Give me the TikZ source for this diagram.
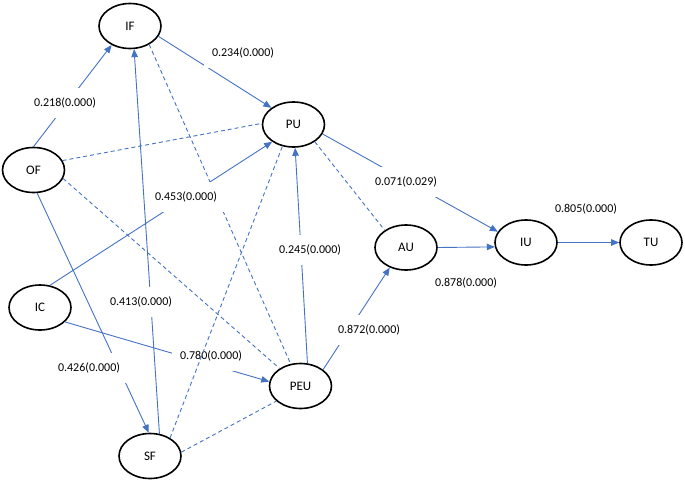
\documentclass[tikz,border=0pt]{standalone}
\usepackage{fontspec}
\setmainfont{Carlito}
\usetikzlibrary{positioning,arrows.meta,shapes.geometric}
\definecolor{link}{HTML}{4472C4}

\begin{document}
\begin{tikzpicture}[x=1pt, y=-1pt,
  var/.style={draw=black, ellipse, line width=1.6pt, minimum width=62pt, minimum height=45pt, inner sep=0pt, font=\fontsize{13}{15}\selectfont},
  eff/.style={draw=link, line width=0.9pt, -{Triangle[length=8pt,width=6.5pt]}},
  cov/.style={draw=link, line width=0.9pt, dash pattern=on 4pt off 3pt},
  coef/.style={fill=white, inner xsep=8pt, inner ysep=0pt, minimum height=30pt, font=\fontsize{12}{14}\selectfont}]
\useasboundingbox (0,0) rectangle (685,482);
% constructs
\node[var] (IF) at (130,26) {IF};
\node[var] (PU) at (293.5,124.5) {PU};
\node[var] (OF) at (33.5,170) {OF};
\node[var] (IC) at (40,307.5) {IC};
\node[var] (SF) at (150,456) {SF};
\node[var] (PEU) at (300.5,386) {PEU};
\node[var] (AU) at (406,247.5) {AU};
\node[var] (IU) at (526,242.5) {IU};
\node[var] (TU) at (651,242.5) {TU};
% paths
\draw[eff] (OF.north) -- (IF.226);
\draw[eff] (IF.340) -- (PU.143);
\draw[eff] (IC.66) -- (PU.219);
\draw[eff] (SF.67) -- (IF.280);
\draw[eff] (OF.279) -- (SF.93);
\draw[eff] (IC.330) -- (PEU.172);
\draw[eff] (PEU.73) -- (PU.274);
\draw[eff] (PEU.36) -- (AU.231);
\draw[eff] (PU.342) -- (IU.159);
\draw[eff] (AU.east) -- (IU.188);
\draw[eff] (IU.east) -- (TU.west);
\draw[cov] (IF.316) -- (PEU.114);
% coefficients
\node[coef] (c1) at (65,103) {0.218(0.000)};
\node[coef] (c2) at (243,53) {0.234(0.000)};
\node[coef] (c3) at (186,197) {0.453(0.000)};
\node[coef] (c4) at (141,302) {0.413(0.000)};
\node[coef] (c5) at (89,368) {0.426(0.000)};
\node[coef] (c6) at (211,356) {0.780(0.000)};
\node[coef] (c7) at (310,250) {0.245(0.000)};
\node[coef] (c8) at (369,330) {0.872(0.000)};
\node[coef] (c9) at (406,182) {0.071(0.029)};
\node[coef] (c10) at (466,283) {0.878(0.000)};
\node[coef] (c11) at (586,209) {0.805(0.000)};
% correlations
\draw[cov] (OF.18) -- (PU.178);
\draw[cov] (OF.344) -- (PEU.140);
\draw[cov] (SF.42) -- (PU.243);
\draw[cov] (SF.7) -- (PEU.212);
\draw[cov] (PU.321) -- (AU.141);
\end{tikzpicture}
\end{document}
